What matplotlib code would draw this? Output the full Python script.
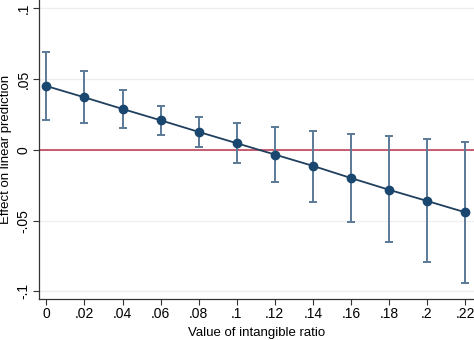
import matplotlib
matplotlib.use("Agg")
import matplotlib.pyplot as plt
import numpy as np

x_vals = [0, 0.02, 0.04, 0.06, 0.08, 0.10, 0.12, 0.14, 0.16, 0.18, 0.20, 0.22]
effect = [0.0451, 0.0371, 0.0289, 0.0209, 0.0127, 0.0047, -0.0033, -0.0113, -0.0199, -0.0282, -0.0361, -0.0441]
ci_upper = [0.0692, 0.0556, 0.0425, 0.0312, 0.0235, 0.0190, 0.0162, 0.0136, 0.0115, 0.0096, 0.0077, 0.0058]
ci_lower = [0.0213, 0.0188, 0.0157, 0.0106, 0.0021, -0.0096, -0.0230, -0.0371, -0.0512, -0.0653, -0.0796, -0.0942]

x_ticks = [0, 0.02, 0.04, 0.06, 0.08, 0.10, 0.12, 0.14, 0.16, 0.18, 0.20, 0.22]
x_tick_labels = ["0", ".02", ".04", ".06", ".08", ".1", ".12", ".14", ".16", ".18", ".2", ".22"]
y_ticks = [-0.1, -0.05, 0, 0.05, 0.1]
y_tick_labels = ["-.1", "-.05", "0", ".05", ".1"]

plt.rcParams['font.family'] = ['Liberation Sans', 'DejaVu Sans']

fig = plt.figure(figsize=(4.74, 3.4), dpi=100)
ax = fig.add_axes([39/474, 41/340, 1 - 39/474, 1 - 41/340])

for yt in y_ticks:
    ax.axhline(yt, color='#eeeeee', lw=0.9, zorder=0)
ax.axhline(0, color='#c0415a', lw=1.2, zorder=1)

eff = np.array(effect)
yerr = [eff - np.array(ci_lower), np.array(ci_upper) - eff]
ax.errorbar(x_vals, eff, yerr=yerr, fmt='none', ecolor='#5b7a96', elinewidth=1.4,
            capsize=3.2, capthick=1.4, zorder=2)
ax.plot(x_vals, eff, color='#1f3f5e', lw=1.3, zorder=3)
ax.plot(x_vals, eff, 'o', color='#1a476f', ms=6, zorder=4)

ax.set_xlim(-0.0039, 0.2247)
ax.set_ylim(-0.1054, 0.1059)
ax.set_xticks(x_ticks)
ax.set_xticklabels(x_tick_labels, fontsize=10)
ax.set_yticks(y_ticks)
ax.set_yticklabels(y_tick_labels, fontsize=10, rotation=90, va='center')
ax.tick_params(axis='both', length=4, width=0.8, color='#333333', pad=2)
for s in ['top', 'right']:
    ax.spines[s].set_visible(False)
for s in ['left', 'bottom']:
    ax.spines[s].set_color('#333333')
    ax.spines[s].set_linewidth(0.9)

ax.set_xlabel("Value of intangible ratio", fontsize=9.5, labelpad=4)
ax.set_ylabel("Effect on linear prediction", fontsize=9.5, labelpad=3)

fig.savefig("out.png", dpi=100)
